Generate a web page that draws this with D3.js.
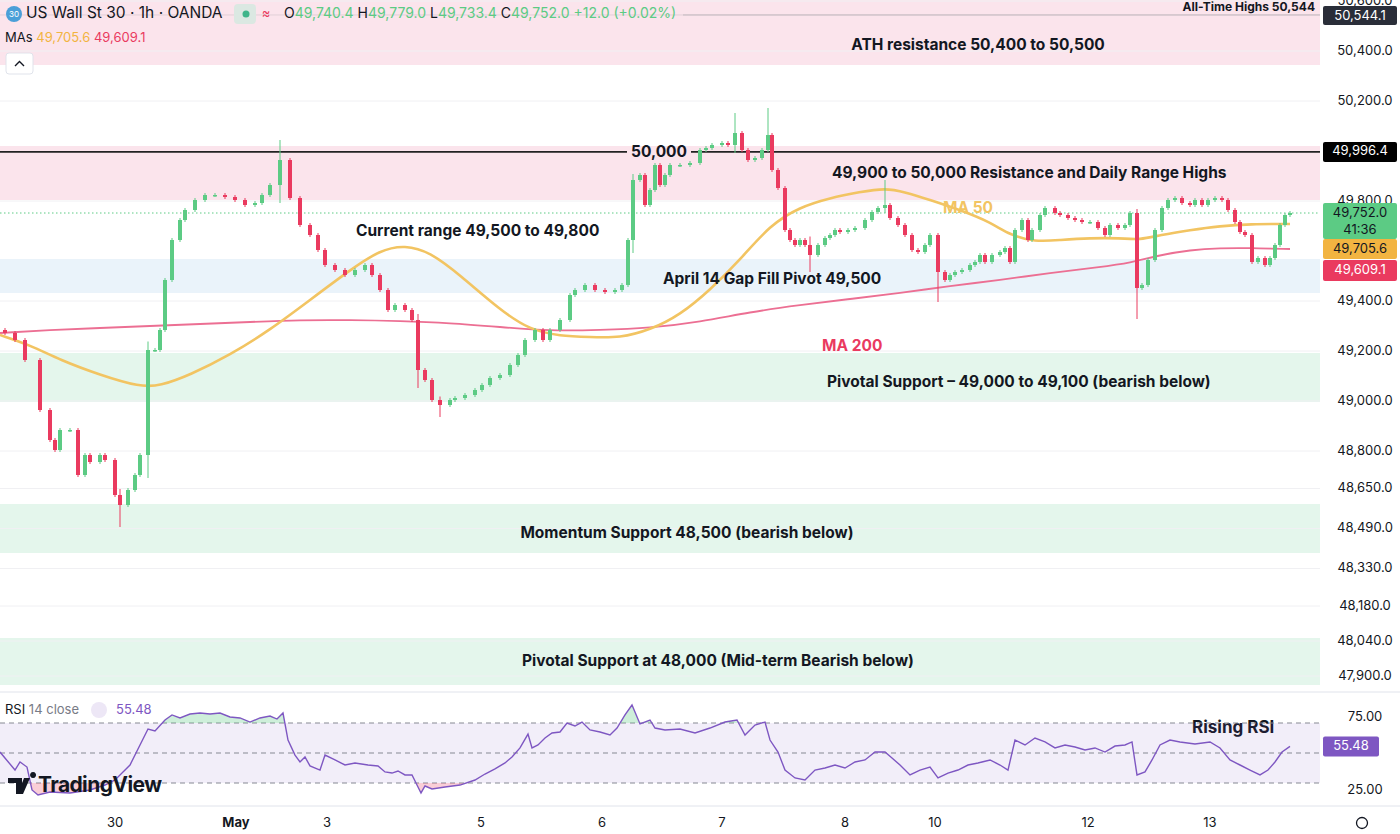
<!DOCTYPE html>
<html><head><meta charset="utf-8">
<script src="https://cdn.jsdelivr.net/npm/d3@7"></script>
<style>body{margin:0;background:#fff;font-family:Inter,"Noto Sans",sans-serif}</style>
</head><body><svg id="c" width="1400" height="834"></svg>
<script>
// ---- data ----
// candles: [bar, close]; open = previous close
const firstOpen = 49284;
const candles = [[1,49272],[3,49244],[5,49164],[8,48964],[10,48844],[11,48804],[12,48884],[14,48884],[15.6,48704],[17,48784],[18,48756],[20,48784],[21,48764],[23,48624],[24,48584],[25.6,48644],[27,48704],[28,48784],[29.6,49204],[31,49204],[32,49284],[33,49484],[34.4,49644],[36,49724],[37,49764],[39,49804],[41,49824],[43,49824],[45,49816],[47,49804],[49,49784],[51,49792],[52.4,49824],[54,49864],[56,49964],[58,49812],[60,49704],[62,49664],[63.6,49604],[65,49544],[67,49524],[69,49504],[71,49524],[73,49544],[74.4,49504],[76,49444],[77.6,49364],[79,49384],[81,49364],[82.4,49324],[83.6,49124],[85,49084],[86.4,49004],[88,48984],[90,49004],[91,49012],[93,49024],[95,49044],[96.4,49064],[98,49092],[100,49104],[102,49144],[103.6,49184],[105,49244],[107,49284],[108.6,49244],[110,49284],[112,49324],[114,49424],[115,49444],[117,49464],[119,49444],[121,49436],[123,49444],[124.4,49464],[125.6,49644],[126.6,49884],[128,49904],[129,49784],[130,49844],[131,49944],[132,49864],[133,49904],[134,49944],[136,49944],[138,49952],[140,50004],[141.2,50012],[142.4,50024],[144.4,50032],[145.6,50024],[147,50072],[148.4,50004],[149.6,49964],[151,49972],[152.4,50004],[153.6,50064],[154.4,49924],[155.6,49852],[157,49684],[158,49644],[159,49624],[160,49644],[161,49624],[162,49584],[163.6,49624],[165,49652],[166,49664],[167,49684],[168,49676],[169.6,49684],[171,49692],[173,49724],[174.4,49756],[175.6,49772],[177,49784],[178,49732],[179.6,49704],[181,49664],[182.4,49604],[183.6,49596],[185,49624],[186,49664],[187.6,49516],[189,49484],[190,49504],[191,49516],[192.4,49524],[194,49544],[195,49556],[196,49584],[197,49556],[198.4,49584],[200,49596],[201,49612],[202,49556],[203,49684],[204.4,49724],[205.6,49644],[206.4,49684],[208,49744],[209,49772],[211,49752],[212,49744],[213.6,49732],[215,49724],[216.4,49716],[218,49716],[219.6,49692],[221,49664],[222,49704],[223.6,49692],[225,49704],[226,49752],[227.4,49452],[228.4,49464],[229.6,49564],[231,49684],[232.4,49772],[233.6,49804],[235,49812],[236.4,49792],[238,49784],[239,49804],[240.4,49784],[241.6,49804],[243,49812],[244.4,49804],[245.6,49764],[247,49716],[248,49676],[249,49664],[250.4,49556],[251.6,49572],[253,49544],[254,49572],[255,49624],[256,49704],[257,49744],[258,49752]];
// notable wicks: [bar, high, low]
const wicks = [[56,50036,49800],[24,48640,48504],[147,50144,50000],[153.6,50164,50060],[177,49876,49760],[227.4,49760,49336],[88,49010,48944],[162,49650,49524],[187.6,49660,49404],[29.6,49230,48700],[126.6,49900,49600],[83.6,49340,49060]];
const ma50 = [[0,49264],[6,49224],[12,49164],[20,49104],[28,49056],[32,49060],[38,49104],[46,49184],[54,49284],[62,49404],[70,49524],[76,49604],[81,49624],[86,49596],[92,49504],[100,49364],[106,49284],[112,49260],[118,49256],[124,49252],[130,49284],[136,49344],[142,49444],[148,49564],[154,49704],[160,49776],[166,49812],[172,49836],[177,49852],[181,49836],[186,49804],[192,49764],[198,49716],[202,49664],[207,49636],[212,49644],[218,49652],[224,49652],[228,49644],[232,49664],[238,49684],[244,49700],[250,49708],[258,49708]];
const ma200 = [[0,49272],[10,49284],[20,49292],[30,49300],[40,49308],[50,49316],[60,49324],[70,49324],[80,49320],[90,49312],[100,49296],[110,49280],[120,49284],[130,49292],[140,49316],[150,49356],[160,49384],[170,49408],[180,49432],[190,49460],[200,49484],[210,49512],[220,49536],[226,49552],[232,49584],[238,49604],[244,49612],[250,49612],[258,49608]];
const rsi = [[0,50.8],[3,35.8],[4,42.5],[5.4,38.3],[6.4,19.2],[7.6,15],[10,17.5],[14,16.7],[18,19.2],[21,23.3],[23,27.5],[26,40],[28,56.7],[29.6,70],[31,68.3],[33,77.5],[34.4,81.7],[36,79.2],[38,82.5],[40,83.3],[42,82.5],[44,83.3],[46,80],[48,79.2],[50,75.8],[52,79.2],[54,80.8],[55.4,78.3],[56.6,83.3],[57.6,60.8],[59,48.3],[60,42.5],[61,46.7],[62,39.2],[64,35.8],[65,48.3],[67,44.2],[69,40],[71,41.7],[73.6,40],[75.6,39.2],[77,34.2],[78.4,33.3],[79.6,35],[81,31.7],[82.4,31.7],[83.4,23.3],[84.2,16.7],[85,22.5],[86.4,20],[89,21.7],[92,23.3],[95,27.5],[97,32.5],[99,36.7],[101,41.7],[102.4,46.7],[104,54.2],[105.6,65.8],[106.4,54.2],[107.6,56.7],[109,62.5],[110.4,66.7],[112,67.5],[113.4,75],[115,72.5],[116.4,75.8],[118,69.2],[120,67.5],[122,65],[123.4,70.8],[125,81.7],[126.4,90],[128,74.2],[130,77.5],[131,70.8],[133,69.2],[136,70],[139,66.7],[142,70.8],[145,75.8],[147.4,77.5],[149,65],[151,73.3],[153,75.8],[154,60.8],[155.6,50.8],[157,35.8],[159,29.2],[161,27.5],[163,35.8],[165,37.5],[167,40],[169,37.5],[171,42.5],[173,44.2],[175,50.8],[177,50.8],[178.4,45.8],[180,40],[182,31.7],[184,35.8],[186,38.3],[187.6,29.2],[189.6,33.3],[191.6,35.8],[193.6,40],[195.6,41.7],[198,44.2],[200,40],[201.6,35.8],[203,60.8],[205,56.7],[207,62.5],[209,59.2],[211,54.2],[213,56.7],[215,55],[217,52.5],[219,54.2],[221,50.8],[223,55.8],[225,56.7],[226.4,59.2],[227.4,31.7],[229,34.2],[230.4,44.2],[232,56.7],[234,60.8],[236,59.2],[239,57.5],[242,59.2],[244,54.2],[246,44.2],[248,40],[250,35.8],[252,31.7],[253.6,35.8],[255,42.5],[256.4,50.8],[258,55.5]];
const priceTicks = [50600,50400,50200,49800,49400,49200,49000,48800,48650,48490,48330,48180,48040,47900];
const dayTicks = [[23,"30"],[47.2,"May"],[65.4,"3"],[96.2,"5"],[120.4,"6"],[144.4,"7"],[169,"8"],[187,"10"],[217.6,"12"],[242,"13"]];
const zones = [
 {lo:50344,hi:50620,c:"#fbe4ec"},{lo:49804,hi:50020,c:"#fbe4ec"},{lo:49432,hi:49568,c:"#eaf3fa"},
 {lo:48996,hi:49192,c:"#e4f6ec"},{lo:48392,hi:48588,c:"#e4f6ec"},{lo:47864,hi:48052,c:"#e4f6ec"}];
const labels = [
 {t:"ATH resistance 50,400 to 50,500",x:978,p:50420,a:"middle"},
 {t:"49,900 to 50,000 Resistance and Daily Range Highs",x:832,p:49910,a:"start"},
 {t:"Current range 49,500 to 49,800",x:356,p:49676,a:"start"},
 {t:"April 14 Gap Fill Pivot 49,500",x:663,p:49484,a:"start"},
 {t:"Pivotal Support – 49,000 to 49,100 (bearish below)",x:827,p:49072,a:"start"},
 {t:"Momentum Support 48,500 (bearish below)",x:687,p:48468,a:"middle"},
 {t:"Pivotal Support at 48,000 (Mid-term Bearish below)",x:718,p:47956,a:"middle"}];
const lastClose = 49752, ath = 50544.1, level50k = 49996.4, ma50Last = 49705.6, ma200Last = 49609.1;

// ---- drawing ----
const svg = d3.select("#c");
const W = 1320;
const x = d3.scaleLinear().domain([0,264]).range([0,W]);
const y = d3.scaleLinear().domain([50604,47864]).range([0,685]);
const ry = d3.scaleLinear().domain([75,25]).range([723,783]);
const G="#5ccb84", R="#ea3a5f";

const gz = svg.append("g");
gz.selectAll("rect").data(zones).join("rect").attr("x",0).attr("width",W)
 .attr("y",d=>y(d.hi)).attr("height",d=>y(d.lo)-y(d.hi)).attr("fill",d=>d.c);
svg.append("g").selectAll("line").data(priceTicks).join("line").attr("x1",0).attr("x2",W)
 .attr("y1",d=>y(d)).attr("y2",d=>y(d)).attr("stroke","#f0f0f3");
svg.append("line").attr("x1",0).attr("x2",W).attr("y1",y(ath)).attr("y2",y(ath)).attr("stroke","#b8b0b6");
svg.append("line").attr("x1",0).attr("x2",W).attr("y1",y(level50k)).attr("y2",y(level50k)).attr("stroke","#222").attr("stroke-width",1.6);
svg.append("line").attr("x1",0).attr("x2",W).attr("y1",y(lastClose)).attr("y2",y(lastClose)).attr("stroke",G).attr("stroke-dasharray","1.5,2.5");
svg.append("rect").attr("x",627).attr("y",y(level50k)-5).attr("width",64).attr("height",12).attr("fill","#fbe4ec");

const line = d3.line().x(d=>x(d[0])).y(d=>y(d[1])).curve(d3.curveBasis);
svg.append("path").attr("d",line(ma200)).attr("fill","none").attr("stroke","#ec6f93").attr("stroke-width",1.8);
svg.append("path").attr("d",line(ma50)).attr("fill","none").attr("stroke","#f2c462").attr("stroke-width",2.6);

const cd = candles.map((d,i)=>{const o=i?candles[i-1][1]:firstOpen;const w=wicks.find(k=>k[0]===d[0]);
 return {b:d[0],o,c:d[1],h:w?Math.max(w[1],o,d[1]):Math.max(o,d[1]),l:w?Math.min(w[2],o,d[1]):Math.min(o,d[1])};});
const gc = svg.append("g");
cd.forEach(d=>{const col=d.c>=d.o?G:R;const cx=x(d.b);
 gc.append("line").attr("x1",cx).attr("x2",cx).attr("y1",y(d.h)-2).attr("y2",y(d.l)+2).attr("stroke",col).attr("stroke-width",1);
 const t=Math.min(y(d.o),y(d.c)),hh=Math.max(1.5,Math.abs(y(d.o)-y(d.c)));
 gc.append("rect").attr("x",cx-2).attr("width",4).attr("y",t).attr("height",hh).attr("fill",col);});

const T = svg.append("g").attr("font-weight",700).attr("font-size",15.5).attr("fill","#131722");
labels.forEach(l=>T.append("text").attr("x",l.x).attr("y",y(l.p)).attr("text-anchor",l.a).attr("dominant-baseline","middle").text(l.t));
T.append("text").attr("x",659).attr("y",y(level50k)+1).attr("text-anchor","middle").attr("dominant-baseline","middle").text("50,000");
T.append("text").attr("x",943).attr("y",209).attr("fill","#f2c462").attr("dominant-baseline","middle").text("MA 50");
T.append("text").attr("x",822).attr("y",347).attr("fill","#ea3a5f").attr("dominant-baseline","middle").text("MA 200");
T.append("text").attr("x",1192).attr("y",728).attr("dominant-baseline","middle").attr("font-size",17).text("Rising RSI");
svg.append("text").attr("x",1315).attr("y",8).attr("text-anchor","end").attr("dominant-baseline","middle").attr("font-size",12).attr("font-weight",700).attr("fill","#131722").text("All-Time Highs 50,544");

svg.append("rect").attr("x",W).attr("y",0).attr("width",80).attr("height",834).attr("fill","#fff");
svg.append("g").selectAll("text").data(priceTicks).join("text").attr("x",1365).attr("y",d=>y(d)).attr("text-anchor","middle")
 .attr("dominant-baseline","middle").attr("font-size",13).attr("fill","#131722").text(d=>d3.format(",.1f")(d));
function badge(yy,h,fill,col,txt,txt2){svg.append("rect").attr("x",1323).attr("y",yy).attr("width",74).attr("height",h).attr("rx",2).attr("fill",fill);
 svg.append("text").attr("x",1360).attr("y",yy+10).attr("text-anchor","middle").attr("dominant-baseline","middle").attr("font-size",13).attr("fill",col).text(txt);
 if(txt2)svg.append("text").attr("x",1360).attr("y",yy+27).attr("text-anchor","middle").attr("dominant-baseline","middle").attr("font-size",13).attr("fill",col).text(txt2);}
badge(y(ath)-9,19,"#2a2e39","#fff",d3.format(",.1f")(ath));
badge(y(level50k)-10,20,"#000","#fff",d3.format(",.1f")(level50k));
badge(y(lastClose)-10,36,G,"#131722",d3.format(",.1f")(lastClose),"41:36");
badge(y(lastClose)+26,20,"#f2b441","#131722",d3.format(",.1f")(ma50Last));
badge(y(lastClose)+47,21,"#ea3a5f","#fff",d3.format(",.1f")(ma200Last));

svg.append("line").attr("x1",0).attr("x2",1400).attr("y1",692).attr("y2",692).attr("stroke","#e0e3eb");

svg.append("rect").attr("x",0).attr("width",W).attr("y",ry(75)).attr("height",ry(25)-ry(75)).attr("fill","#7e57c2").attr("opacity",0.1);
[75,50,25].forEach(v=>svg.append("line").attr("x1",0).attr("x2",W).attr("y1",ry(v)).attr("y2",ry(v)).attr("stroke","#868993").attr("stroke-dasharray","5,4"));
const rl = d3.line().x(d=>x(d[0])).y(d=>ry(d[1]));
const defs=svg.append("defs");
defs.append("clipPath").attr("id","ob").append("rect").attr("x",0).attr("y",690).attr("width",W).attr("height",ry(75)-690);
defs.append("clipPath").attr("id","os").append("rect").attr("x",0).attr("y",ry(25)).attr("width",W).attr("height",30);
const area75=d3.area().x(d=>x(d[0])).y0(ry(75)).y1(d=>ry(d[1]));
const area25=d3.area().x(d=>x(d[0])).y0(ry(25)).y1(d=>ry(d[1]));
svg.append("path").attr("d",area75(rsi)).attr("fill","#5ccb84").attr("opacity",0.3).attr("clip-path","url(#ob)");
svg.append("path").attr("d",area25(rsi)).attr("fill","#ea3a5f").attr("opacity",0.25).attr("clip-path","url(#os)");
svg.append("path").attr("d",rl(rsi)).attr("fill","none").attr("stroke","#7e57c2").attr("stroke-width",1.4);
[[75,717],[25,790]].forEach(([v,yy])=>svg.append("text").attr("x",1365).attr("y",yy).attr("text-anchor","middle").attr("dominant-baseline","middle").attr("font-size",13).attr("fill","#131722").text(v.toFixed(2)));
svg.append("rect").attr("x",1323).attr("y",ry(55.48)-10).attr("width",56).attr("height",20).attr("rx",2).attr("fill","#7e57c2");
svg.append("text").attr("x",1351).attr("y",ry(55.48)).attr("text-anchor","middle").attr("dominant-baseline","middle").attr("font-size",13).attr("fill","#fff").text("55.48");
svg.append("text").attr("x",5).attr("y",710).attr("font-size",13).attr("fill","#131722").attr("dominant-baseline","middle").html('RSI <tspan fill="#787b86">14 close</tspan>');
svg.append("circle").attr("cx",99).attr("cy",710).attr("r",8).attr("fill","#ede7f6");
svg.append("text").attr("x",116).attr("y",710).attr("font-size",13).attr("fill","#7e57c2").attr("dominant-baseline","middle").text("55.48");
svg.append("path").attr("d","M8,778 h14 v16 h-6 v-11 h-8 z M24,778 h6 l-7,16 h-5 z M28,778 m5,0 a3,3 0 1,1 0.1,0").attr("fill","#131722");
svg.append("text").attr("x",38).attr("y",786).attr("font-size",21).attr("font-weight",700).attr("fill","#131722").attr("dominant-baseline","middle").attr("letter-spacing",-0.6).text("TradingView");

svg.append("line").attr("x1",0).attr("x2",1400).attr("y1",806).attr("y2",806).attr("stroke","#e0e3eb");
svg.append("g").selectAll("text").data(dayTicks).join("text").attr("x",d=>x(d[0])).attr("y",823).attr("text-anchor","middle")
 .attr("dominant-baseline","middle").attr("font-size",13).attr("font-weight",d=>d[1]==="May"?700:400).attr("fill","#131722").text(d=>d[1]);
svg.append("circle").attr("cx",1362).attr("cy",823).attr("r",5.5).attr("fill","none").attr("stroke","#131722").attr("stroke-width",1.3);

svg.append("rect").attr("x",0).attr("y",2).attr("width",683).attr("height",24).attr("fill","#fbe4ec").attr("opacity",0.6);
svg.append("circle").attr("cx",14).attr("cy",14).attr("r",8).attr("fill","#4a9fd8");
svg.append("text").attr("x",14).attr("y",14.5).attr("text-anchor","middle").attr("dominant-baseline","middle").attr("font-size",8).attr("fill","#fff").text("30");
svg.append("text").attr("x",26).attr("y",14).attr("font-size",15.5).attr("fill","#131722").attr("dominant-baseline","middle").text("US Wall St 30 · 1h · OANDA");
svg.append("rect").attr("x",234).attr("y",4).attr("width",22).attr("height",20).attr("rx",4).attr("fill","#dbe8e2");
svg.append("circle").attr("cx",246).attr("cy",14).attr("r",3.5).attr("fill","#3fb58a");
svg.append("text").attr("x",266).attr("y",14).attr("font-size",13).attr("fill","#ea3a5f").attr("dominant-baseline","middle").attr("text-anchor","middle").text("≈");
svg.append("text").attr("x",284).attr("y",14).attr("font-size",14).attr("fill","#131722").attr("dominant-baseline","middle")
 .html('O<tspan fill="#5ccb84">49,740.4</tspan>  H<tspan fill="#5ccb84">49,779.0</tspan>  L<tspan fill="#5ccb84">49,733.4</tspan>  C<tspan fill="#5ccb84">49,752.0  +12.0 (+0.02%)</tspan>');
svg.append("text").attr("x",5).attr("y",38).attr("font-size",13).attr("fill","#131722").attr("dominant-baseline","middle")
 .html('MAs  <tspan fill="#f2b441">49,705.6</tspan>  <tspan fill="#ea3a5f">49,609.1</tspan>');
svg.append("rect").attr("x",6).attr("y",53).attr("width",27).attr("height",21).attr("rx",3).attr("fill","#fff").attr("stroke","#e0e3eb");
svg.append("path").attr("d","M15,66 L19.5,61.5 L24,66").attr("fill","none").attr("stroke","#131722").attr("stroke-width",1.4);
</script></body></html>
